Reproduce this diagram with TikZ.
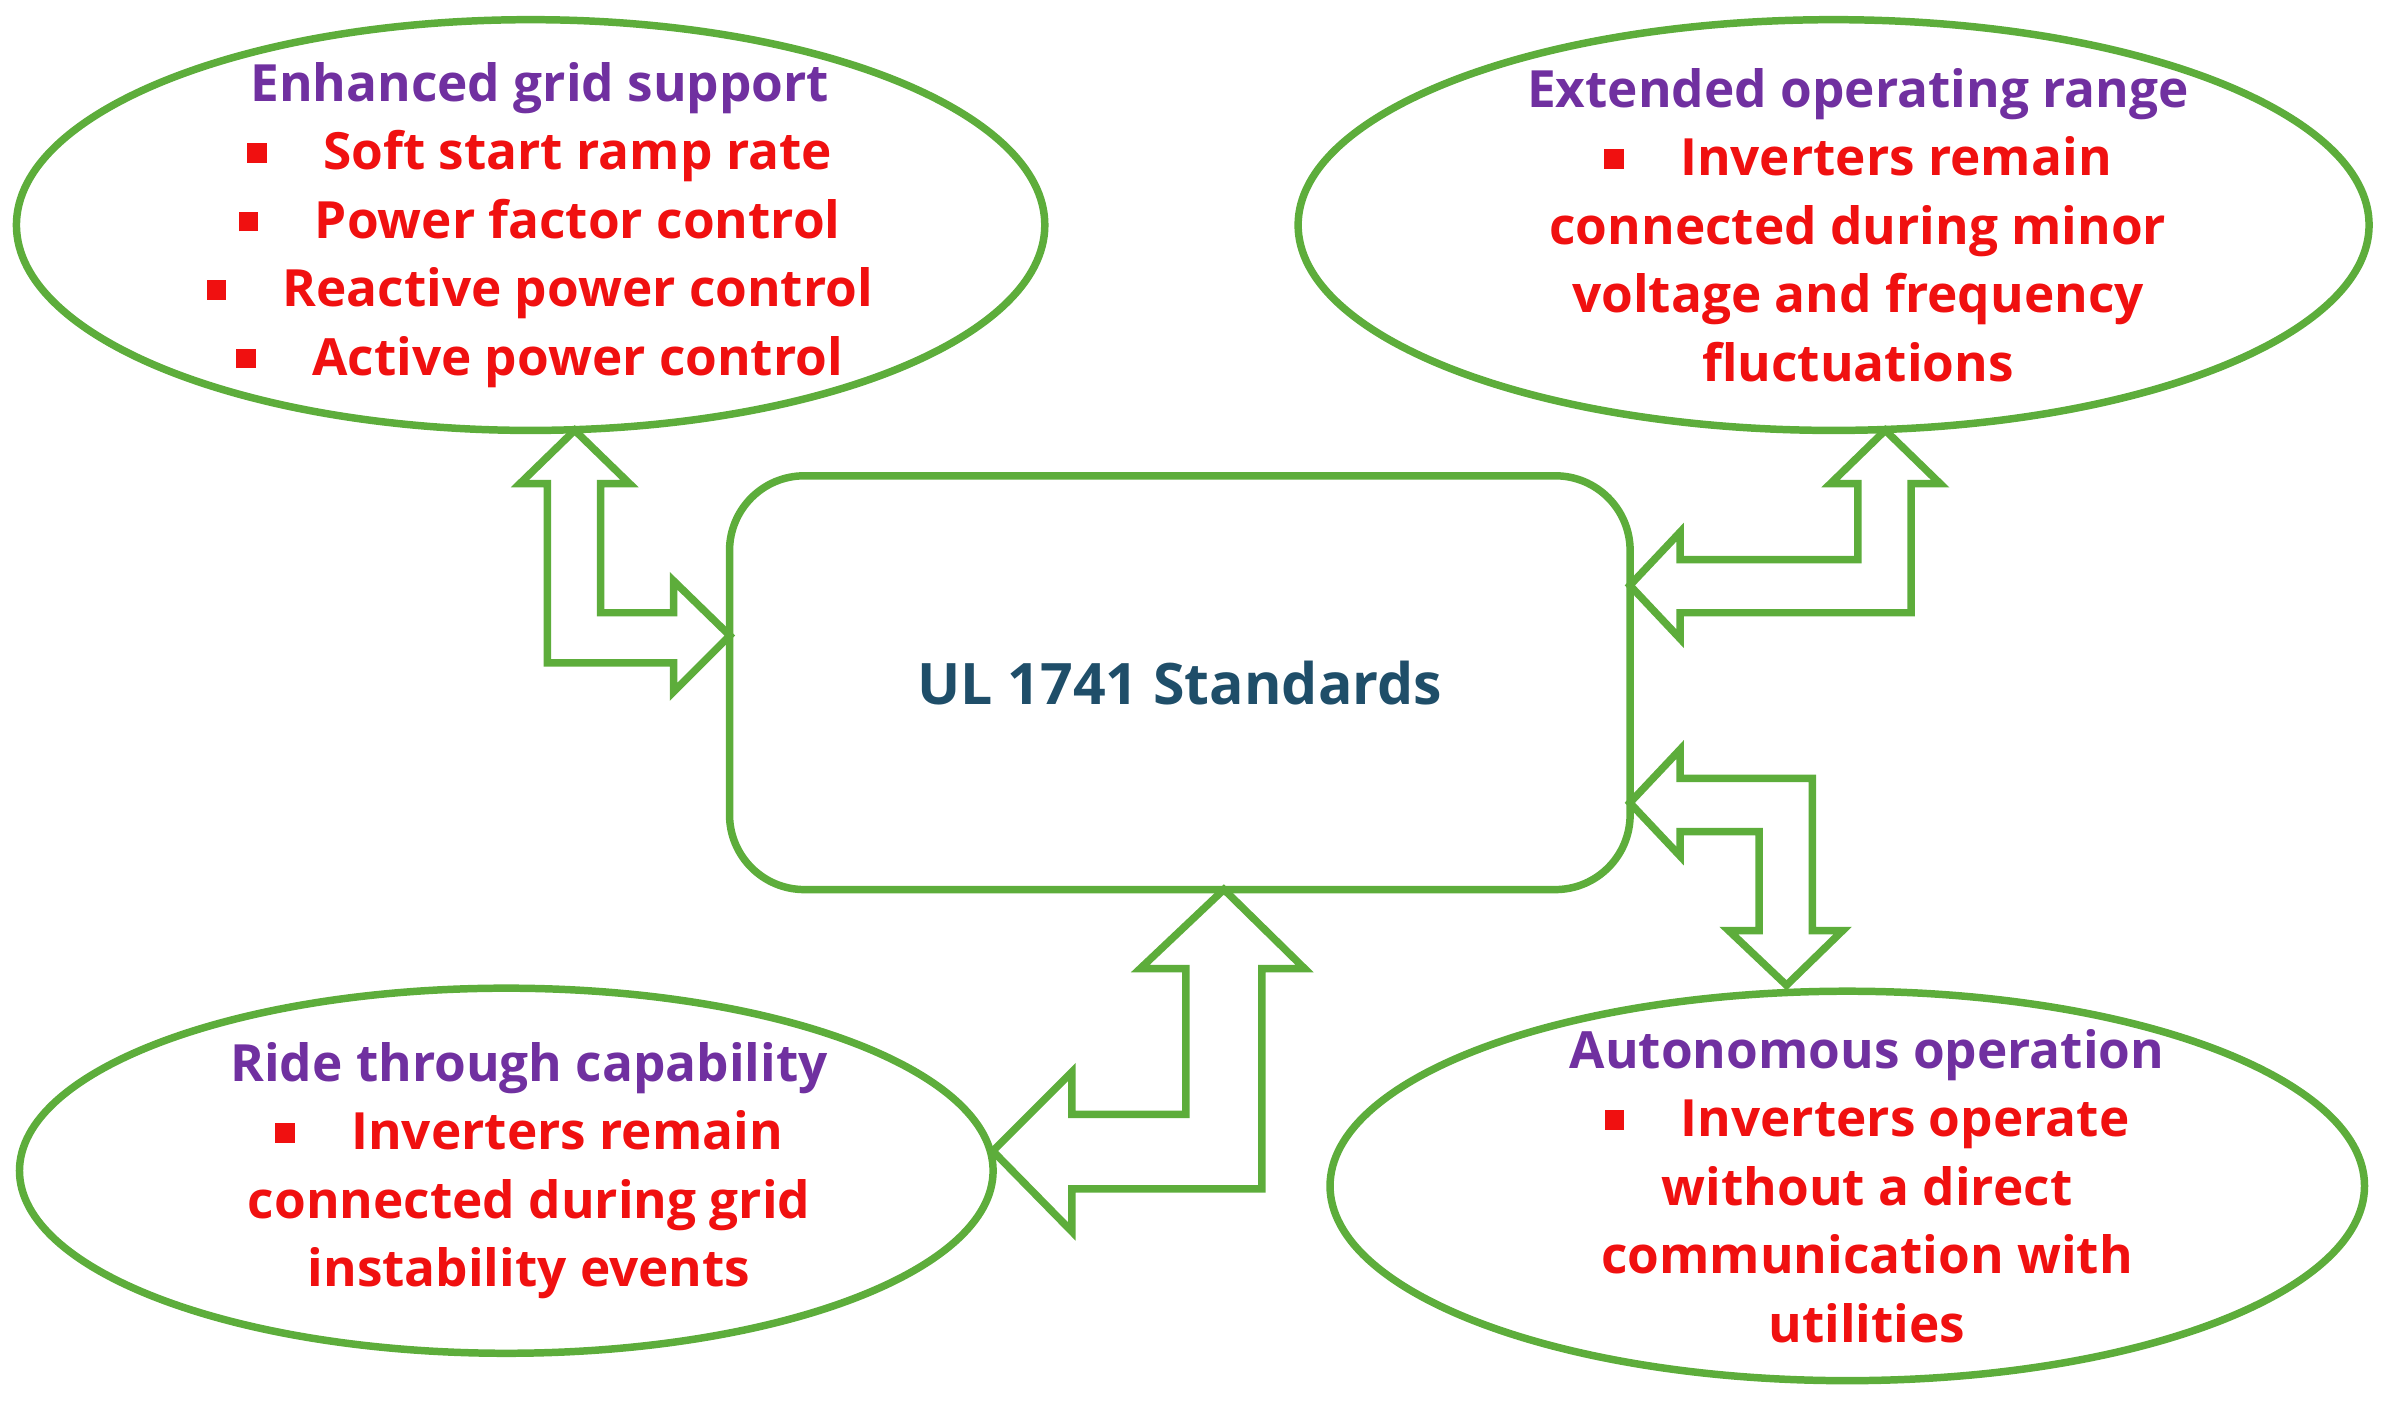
\documentclass[tikz,border=0pt]{standalone}
\usepackage{fontspec}
\setmainfont{Open Sans}
\usetikzlibrary{shapes.geometric}
\definecolor{leaf}{HTML}{5DAD3B}
\definecolor{plum}{HTML}{7030A0}
\definecolor{ink}{HTML}{1F4E69}
\definecolor{alarm}{HTML}{F01010}
\newcommand{\sq}{\textcolor{alarm}{\rule[0.25ex]{0.38em}{0.38em}}\hspace{1.1em}}
\tikzset{
	bubble/.style={draw=leaf, line width=1.4pt, ellipse, inner sep=0pt},
	words/.style={align=center, font=\bfseries\fontsize{9.6}{12.8}\selectfont, text=alarm},
	hollow/.style={draw=leaf, line width=1.4pt, line join=miter, fill=white},
}
\begin{document}
\begin{tikzpicture}[x=0.01cm, y=-0.01cm]
	\useasboundingbox (0,0) rectangle (1568,926);
	\node[draw=leaf, line width=1.4pt, rounded corners=14pt, minimum width=5.92cm, minimum height=2.72cm,
		font=\bfseries\fontsize{10.7}{14}\selectfont, text=ink] (ul) at (776,449) {UL 1741 Standards};
	\node[bubble, minimum width=6.76cm, minimum height=2.7cm] (grid) at (349,148) {};
	\node[bubble, minimum width=7.04cm, minimum height=2.7cm] (range) at (1206,148) {};
	\node[bubble, minimum width=6.4cm, minimum height=2.4cm] (ride) at (333,770) {};
	\node[bubble, minimum width=6.8cm, minimum height=2.56cm] (auto) at (1215,780) {};
	\node[words] (gridtxt) at (355,148)
		{\textcolor{plum}{Enhanced grid support}\\ \sq Soft start ramp rate\\ \sq Power factor control\\ \sq Reactive power control\\ \sq Active power control};
	\node[words] (rangetxt) at (1222,148)
		{\textcolor{plum}{Extended operating range}\\ \sq Inverters remain\\ connected during minor\\ voltage and frequency\\ fluctuations};
	\node[words] (ridetxt) at (348,770)
		{\textcolor{plum}{Ride through capability}\\ \sq Inverters remain\\ connected during grid\\ instability events};
	\node[words] (autotxt) at (1228,780)
		{\textcolor{plum}{Autonomous operation}\\ \sq Inverters operate\\ without a direct\\ communication with\\ utilities};

	\path[hollow] (378,283) -- (414,318) -- (395,318) -- (395,403) -- (443,403) -- (443,382) -- (480,418) -- (443,455) -- (443,436) -- (360,436) -- (360,318) -- (342,318) -- cycle;
	\path[hollow] (1240,283) -- (1276,318) -- (1257,318) -- (1257,403) -- (1105,403) -- (1105,420) -- (1072,385) -- (1105,350) -- (1105,368) -- (1222,368) -- (1222,318) -- (1204,318) -- cycle;
	\path[hollow] (1072,528) -- (1105,493) -- (1105,512) -- (1192,512) -- (1192,612) -- (1212,612) -- (1175,648) -- (1137,612) -- (1157,612) -- (1157,547) -- (1105,547) -- (1105,563) -- cycle;
	\path[hollow] (805,585) -- (858,637) -- (830,637) -- (830,782) -- (705,782) -- (705,810) -- (653,757) -- (705,705) -- (705,733) -- (780,733) -- (780,637) -- (750,637) -- cycle;
\end{tikzpicture}
\end{document}
